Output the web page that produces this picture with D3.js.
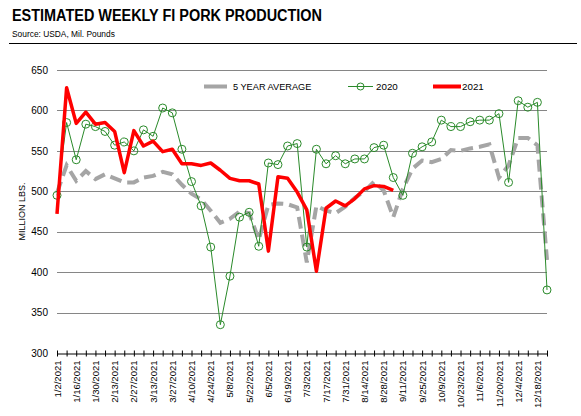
<!DOCTYPE html>
<html>
<head>
<meta charset="utf-8">
<script src="https://cdn.jsdelivr.net/npm/d3@7"></script>
<style>
	body { margin: 0; background: #fff; }
	text { font-family: "Liberation Sans", Arial, sans-serif; }
</style>
</head>
<body>
<div class="container"></div>
<script>

// weeks of 2021 (categories)
var weeks = ['1/2/2021', '1/9/2021', '1/16/2021', '1/23/2021', '1/30/2021', '2/6/2021', '2/13/2021',
	'2/20/2021', '2/27/2021', '3/6/2021', '3/13/2021', '3/20/2021', '3/27/2021', '4/3/2021', '4/10/2021',
	'4/17/2021', '4/24/2021', '5/1/2021', '5/8/2021', '5/15/2021', '5/22/2021', '5/29/2021', '6/5/2021',
	'6/12/2021', '6/19/2021', '6/26/2021', '7/3/2021', '7/10/2021', '7/17/2021', '7/24/2021', '7/31/2021',
	'8/7/2021', '8/14/2021', '8/21/2021', '8/28/2021', '9/4/2021', '9/11/2021', '9/18/2021', '9/25/2021',
	'10/2/2021', '10/9/2021', '10/16/2021', '10/23/2021', '10/30/2021', '11/6/2021', '11/13/2021',
	'11/20/2021', '11/27/2021', '12/4/2021', '12/11/2021', '12/18/2021', '12/25/2021'];

var avg_5yr = [498, 532, 513, 525, 515, 521, 516, 511, 511, 517, 519, 524, 521, 508, 497, 490, 476, 461,
	466, 475, 473, 440, 483, 485, 484, 480, 412, 482, 476, 473, 481, 492, 500, 512, 501, 468, 503, 528,
	538, 536, 540, 551, 550, 553, 555, 558, 517, 532, 566, 566, 557, 415];

var y2020 = [495, 585, 539, 583, 580, 574, 557, 561, 550, 576, 568, 603, 597, 552, 512, 482, 431, 335,
	395, 468, 474, 432, 535, 533, 556, 559, 431, 552, 534, 544, 534, 540, 540, 554, 557, 517, 495, 547,
	555, 561, 588, 580, 580, 586, 588, 588, 596, 511, 612, 604, 610, 378];

// 2021 only goes up to 9/4
var y2021 = [472, 628, 584, 598, 583, 585, 574, 523, 575, 556, 562, 549, 552, 534, 534, 532, 535, 526,
	516, 513, 513, 509, 426, 518, 516, 499, 477, 401, 479, 488, 482, 491, 503, 507, 506, 501];

var y_ticks = [300, 350, 400, 450, 500, 550, 600, 650];

var width = 581, height = 416;
var plot = {left: 57, right: 547, top: 70, bottom: 353};

var svg = d3.select('.container').append('svg')
	.attr('width', width)
	.attr('height', height);

// title block
svg.append('text')
	.attr('x', 12)
	.attr('y', 21)
	.attr('font-size', 16)
	.attr('font-weight', 'bold')
	.attr('textLength', 310)
	.attr('lengthAdjust', 'spacingAndGlyphs')
	.text('ESTIMATED WEEKLY FI PORK PRODUCTION');

svg.append('text')
	.attr('x', 12)
	.attr('y', 37)
	.attr('font-size', 8.4)
	.text('Source: USDA, Mil. Pounds');

svg.append('line')
	.attr('x1', 9).attr('x2', 577)
	.attr('y1', 43.5).attr('y2', 43.5)
	.attr('stroke', '#000')
	.attr('stroke-width', 1);

var x_scale = d3.scalePoint()
	.domain(weeks)
	.range([plot.left, plot.right]);

var y_scale = d3.scaleLinear()
	.domain([300, 650])
	.range([plot.bottom, plot.top]);

// gridlines
svg.append('g')
	.selectAll('line')
	.data(y_ticks.filter(function(d) { return d > 300; }))
	.enter()
	.append('line')
	.attr('x1', plot.left).attr('x2', plot.right)
	.attr('y1', function(d) { return Math.round(y_scale(d)) + 0.5; })
	.attr('y2', function(d) { return Math.round(y_scale(d)) + 0.5; })
	.attr('stroke', '#868686')
	.attr('stroke-width', 1);

// y axis (labels only)
var y_axis = d3.axisLeft(y_scale)
	.tickValues(y_ticks)
	.tickSize(0)
	.tickPadding(9);

var y_g = svg.append('g')
	.attr('transform', 'translate(' + plot.left + ',0)')
	.call(y_axis);
y_g.select('.domain').remove();
y_g.selectAll('text')
	.attr('font-size', 10)
	.attr('font-family', '"Liberation Sans", Arial, sans-serif')
	.attr('fill', '#000');

svg.append('text')
	.attr('transform', 'translate(25,' + ((plot.top + plot.bottom) / 2) + ') rotate(-90)')
	.attr('text-anchor', 'middle')
	.attr('font-size', 9)
	.text('MILLION LBS.');

// x axis, ticks crossing the line
var x_axis = d3.axisBottom(x_scale)
	.tickSizeInner(3)
	.tickSizeOuter(0)
	.tickPadding(4)
	.tickFormat(function(d, i) {
		if (i % 2)
			return '';
		return d;
	});

var x_g = svg.append('g')
	.attr('transform', 'translate(0,' + (plot.bottom + 0.5) + ')')
	.call(x_axis);
x_g.select('.domain').attr('stroke', '#000');
x_g.selectAll('.tick line')
	.attr('y1', -3)
	.attr('stroke', '#000');
x_g.selectAll('.tick text')
	.attr('font-size', 9.5)
	.attr('font-family', '"Liberation Sans", Arial, sans-serif')
	.attr('fill', '#000')
	.attr('text-anchor', 'end')
	.attr('transform', 'rotate(-90)')
	.attr('x', -7)
	.attr('y', 0)
	.attr('dy', '0.32em');

var lineFunction = d3.line()
	.x(function(d, i) { return x_scale(weeks[i]); })
	.y(function(d) { return y_scale(d); });

// 5 year average
svg.append('path')
	.attr('d', lineFunction(avg_5yr))
	.attr('fill', 'none')
	.attr('stroke', '#a5a5a5')
	.attr('stroke-width', 4)
	.attr('stroke-dasharray', '12,6');

// 2020
var green = '#2a8a2a';
svg.append('path')
	.attr('d', lineFunction(y2020))
	.attr('fill', 'none')
	.attr('stroke', green)
	.attr('stroke-width', 1);

svg.append('g')
	.selectAll('circle')
	.data(y2020)
	.enter()
	.append('circle')
	.attr('cx', function(d, i) { return x_scale(weeks[i]); })
	.attr('cy', function(d) { return y_scale(d); })
	.attr('r', 4)
	.attr('fill', 'none')
	.attr('stroke', green)
	.attr('stroke-width', 1);

// 2021
svg.append('path')
	.attr('d', lineFunction(y2021))
	.attr('fill', 'none')
	.attr('stroke', '#ff0000')
	.attr('stroke-width', 3.5)
	.attr('stroke-linejoin', 'round');

// legend
var legend = svg.append('g');
var ly = 86.5;

legend.append('line')
	.attr('x1', 204).attr('x2', 227)
	.attr('y1', ly).attr('y2', ly)
	.attr('stroke', '#a5a5a5')
	.attr('stroke-width', 4);
legend.append('text')
	.attr('x', 233).attr('y', ly + 3.5)
	.attr('font-size', 9.2)
	.text('5 YEAR AVERAGE');

legend.append('line')
	.attr('x1', 348).attr('x2', 373)
	.attr('y1', ly).attr('y2', ly)
	.attr('stroke', green)
	.attr('stroke-width', 1);
legend.append('circle')
	.attr('cx', 360.5).attr('cy', ly)
	.attr('r', 3.5)
	.attr('fill', 'none')
	.attr('stroke', green);
legend.append('text')
	.attr('x', 376).attr('y', ly + 3.5)
	.attr('font-size', 9.8)
	.text('2020');

legend.append('line')
	.attr('x1', 433).attr('x2', 461)
	.attr('y1', ly).attr('y2', ly)
	.attr('stroke', '#ff0000')
	.attr('stroke-width', 4);
legend.append('text')
	.attr('x', 462).attr('y', ly + 3.5)
	.attr('font-size', 9.8)
	.text('2021');

</script>
</body>
</html>
